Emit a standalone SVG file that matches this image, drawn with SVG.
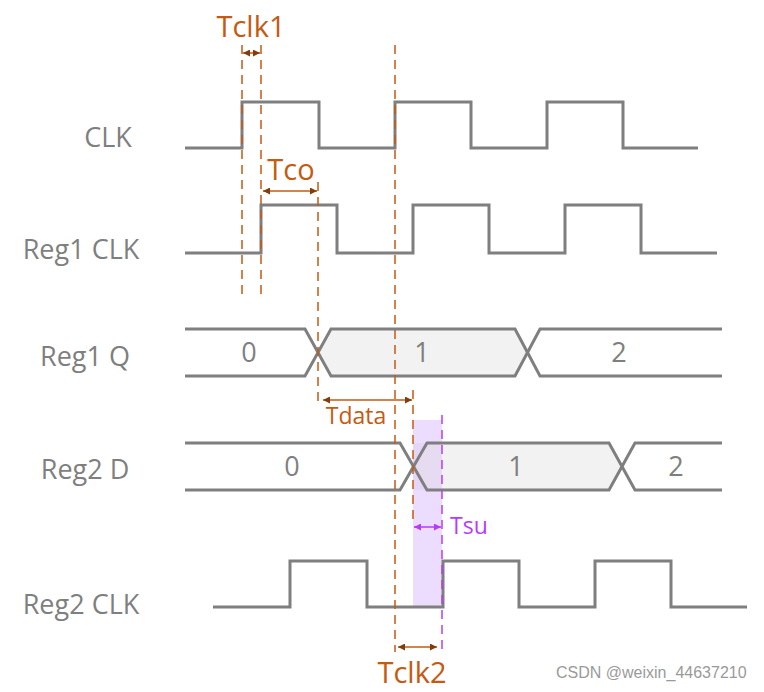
<svg xmlns="http://www.w3.org/2000/svg" width="764" height="692" viewBox="0 0 764 692">
<defs>
<style>
.sig{fill:none;stroke:#7f7f7f;stroke-width:3;stroke-linejoin:miter}
.lbl{font-family:"Open Sans","Liberation Sans",sans-serif;font-size:27px;fill:#7f7f7f;text-anchor:middle}
.val{font-family:"Open Sans","Liberation Sans",sans-serif;font-size:27px;fill:#7f7f7f;text-anchor:middle}
.dash{stroke:#c55a11;stroke-width:1.5;stroke-dasharray:9,6;fill:none}
.pdash{stroke:#b43cff;stroke-width:1.5;stroke-dasharray:9,6;fill:none}
.arr{stroke:#c55a11;stroke-width:1.5;fill:none;marker-start:url(#ah);marker-end:url(#ah)}
.parr{stroke:#b43cff;stroke-width:1.5;fill:none;marker-start:url(#ph);marker-end:url(#ph)}
.tl{font-family:"Open Sans","Liberation Sans",sans-serif;font-size:29px;fill:#c55a11;text-anchor:middle}
.tsu{font-family:"Open Sans","Liberation Sans",sans-serif;font-size:23px;fill:#b43cff}
</style>
<marker id="ah" viewBox="0 0 10 10" refX="10" refY="5" markerWidth="7" markerHeight="7" orient="auto-start-reverse" markerUnits="userSpaceOnUse"><path d="M0,0 L10,5 L0,10 z" fill="#843c0c"/></marker>
<marker id="ph" viewBox="0 0 10 10" refX="10" refY="5" markerWidth="7" markerHeight="7" orient="auto-start-reverse" markerUnits="userSpaceOnUse"><path d="M0,0 L10,5 L0,10 z" fill="#b43cff"/></marker>
</defs>
<rect width="764" height="692" fill="#ffffff"/>

<rect x="413" y="420" width="29" height="187" fill="#ead9ff" opacity="0.9"/>

<g id="clk">
<text class="lbl" x="108" y="147">CLK</text>
<polyline class="sig" points="185,148 242,148 242,102 319,102 319,148 395,148 395,102 471,102 471,148 547,148 547,102 623,102 623,148 698,148"/>
</g>

<g id="reg1clk">
<text class="lbl" x="81" y="259">Reg1 CLK</text>
<polyline class="sig" points="185,253 261,253 261,205 337,205 337,253 413,253 413,205 489,205 489,253 565,253 565,205 641,205 641,253 717,253"/>
</g>

<g id="reg1q">
<text class="lbl" x="85" y="366">Reg1 Q</text>
<polygon points="331,329 515,329 527,352.5 515,376 331,376 318,352.5" fill="#f2f2f2"/>
<polyline class="sig" points="185,329 305,329 331,376 515,376 540,329 722,329"/>
<polyline class="sig" points="185,376 305,376 331,329 515,329 540,376 722,376"/>
<text class="val" x="249" y="362">0</text>
<text class="val" x="422" y="362">1</text>
<text class="val" x="619" y="362">2</text>
</g>

<g id="reg2d">
<text class="lbl" x="85" y="479">Reg2 D</text>
<polygon points="427,443 609,443 622,466.5 609,490 427,490 412,466.5" fill="#f2f2f2"/>
<rect x="413" y="443" width="29" height="47" fill="#e2d2f2" opacity="0.7"/>
<polyline class="sig" points="185,443 400,443 427,490 609,490 635,443 722,443"/>
<polyline class="sig" points="185,490 400,490 427,443 609,443 635,490 722,490"/>
<text class="val" x="292" y="476">0</text>
<text class="val" x="516" y="476">1</text>
<text class="val" x="676" y="476">2</text>
</g>

<g id="reg2clk">
<text class="lbl" x="81" y="614">Reg2 CLK</text>
<polyline class="sig" points="213,607 290,607 290,561 367,561 367,607 443,607 443,561 519,561 519,607 595,607 595,561 671,561 671,607 747,607"/>
</g>

<g id="connectors">
<line class="dash" x1="242" y1="45" x2="242" y2="298"/>
<line class="dash" x1="261" y1="45" x2="261" y2="298"/>
<line class="dash" x1="318" y1="182" x2="318" y2="405"/>
<line class="dash" x1="395" y1="45" x2="395" y2="652"/>
<line class="dash" x1="413" y1="390" x2="413" y2="520"/>
<line class="pdash" x1="442" y1="415" x2="442" y2="652"/>
<line class="arr" x1="243" y1="53" x2="260" y2="53"/>
<line class="arr" x1="263" y1="191" x2="317" y2="191"/>
<line class="arr" x1="323" y1="400" x2="412" y2="400"/>
<line class="parr" x1="414" y1="527" x2="441" y2="527"/>
<line class="arr" x1="398" y1="647" x2="437" y2="647"/>
</g>

<g id="labels">
<text class="tl" x="251" y="37">Tclk1</text>
<text class="tl" x="291" y="180">Tco</text>
<text class="tl" x="356" y="424" style="font-size:23px">Tdata</text>
<text class="tsu" x="450" y="534">Tsu</text>
<text class="tl" x="412" y="683">Tclk2</text>
</g>

<text x="556" y="678" font-family="Liberation Sans,Arial,sans-serif" font-size="16" fill="#9a9a9a">CSDN @weixin_44637210</text>
</svg>
